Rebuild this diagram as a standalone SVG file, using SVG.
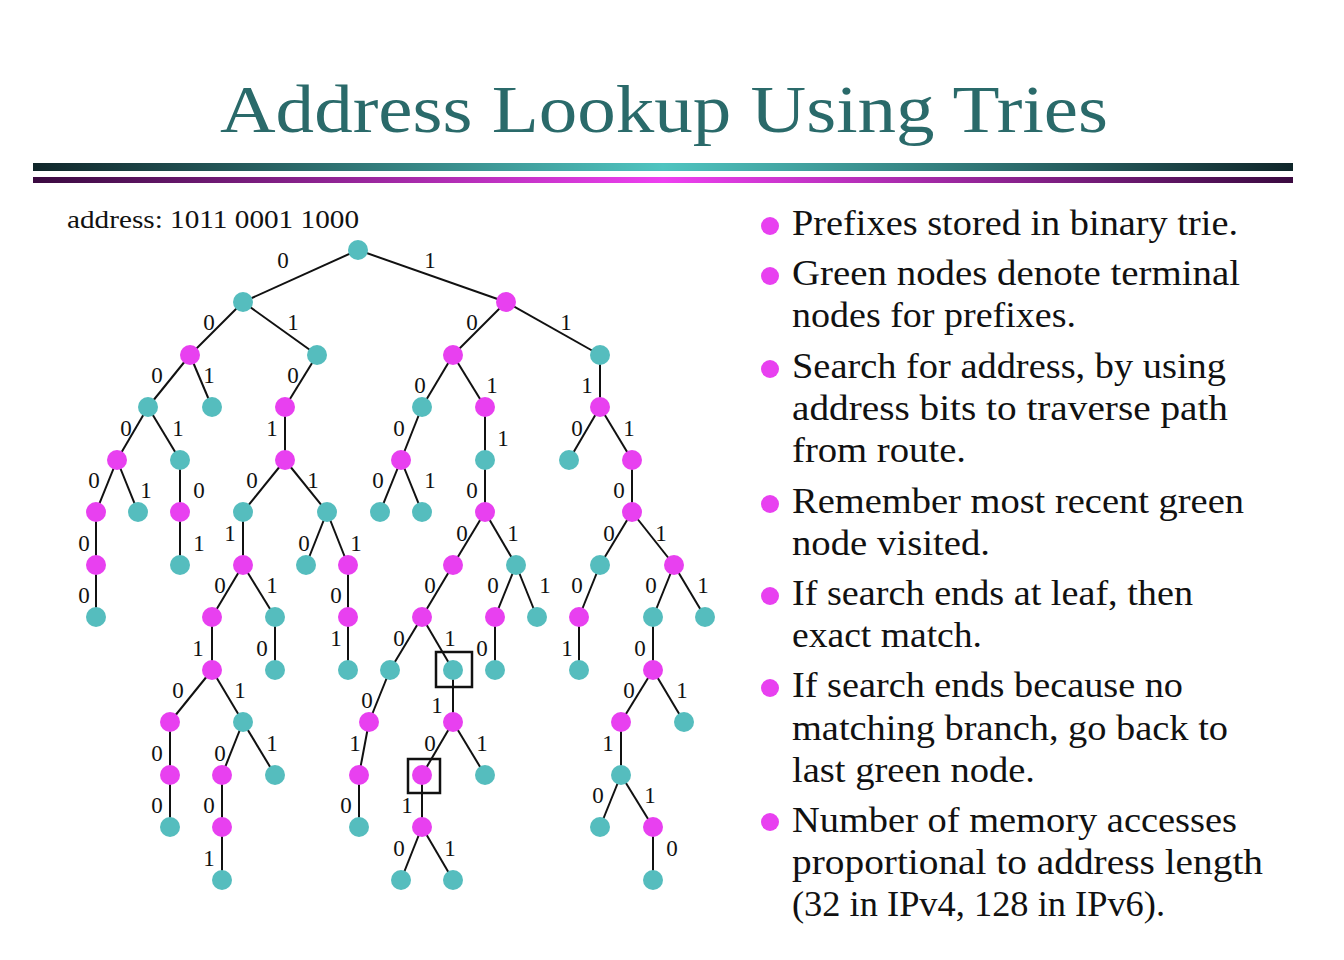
<svg xmlns="http://www.w3.org/2000/svg" width="1344" height="960" viewBox="0 0 1344 960">
<defs>
<linearGradient id="g1" x1="0" x2="1" y1="0" y2="0"><stop offset="0" stop-color="#10262a"/><stop offset="0.5" stop-color="#4fc4c0"/><stop offset="1" stop-color="#10262a"/></linearGradient>
<linearGradient id="g2" x1="0" x2="1" y1="0" y2="0"><stop offset="0" stop-color="#3a0a40"/><stop offset="0.5" stop-color="#ee40f0"/><stop offset="1" stop-color="#3a0a40"/></linearGradient>
</defs>
<style>
.t{fill:#55bdbe}.m{fill:#e840f0}
.e line{stroke:#111;stroke-width:2}
.l{font-family:"Liberation Serif",serif;font-size:23px;fill:#111;text-anchor:middle}
.b{font-family:"Liberation Serif",serif;font-size:35px;fill:#111}
.bx{fill:none;stroke:#111;stroke-width:2.5}
</style>
<rect width="1344" height="960" fill="#fff"/>
<text x="220" y="132" font-family="Liberation Serif,serif" font-size="68" fill="#2a6a6a" textLength="888" lengthAdjust="spacingAndGlyphs">Address Lookup Using Tries</text>
<rect x="33" y="163" width="1260" height="8" fill="url(#g1)"/>
<rect x="33" y="177" width="1260" height="6" fill="url(#g2)"/>
<text x="67" y="228" font-family="Liberation Serif,serif" font-size="26" fill="#111" textLength="292" lengthAdjust="spacingAndGlyphs">address: 1011 0001 1000</text>
<g id="connectors" class="e">
<line x1="358" y1="250" x2="243" y2="302"/><line x1="358" y1="250" x2="506" y2="302"/>
<line x1="243" y1="302" x2="190" y2="355"/><line x1="243" y1="302" x2="317" y2="355"/>
<line x1="190" y1="355" x2="148" y2="407"/><line x1="190" y1="355" x2="212" y2="407"/>
<line x1="148" y1="407" x2="117" y2="460"/><line x1="148" y1="407" x2="180" y2="460"/>
<line x1="117" y1="460" x2="96" y2="512"/><line x1="117" y1="460" x2="138" y2="512"/>
<line x1="96" y1="512" x2="96" y2="617"/>
<line x1="180" y1="460" x2="180" y2="565"/>
<line x1="317" y1="355" x2="285" y2="407"/><line x1="285" y1="407" x2="285" y2="460"/>
<line x1="285" y1="460" x2="243" y2="512"/><line x1="285" y1="460" x2="327" y2="512"/>
<line x1="243" y1="512" x2="243" y2="565"/>
<line x1="243" y1="565" x2="212" y2="617"/><line x1="243" y1="565" x2="275" y2="617"/>
<line x1="212" y1="617" x2="212" y2="670"/><line x1="275" y1="617" x2="275" y2="670"/>
<line x1="212" y1="670" x2="170" y2="722"/><line x1="212" y1="670" x2="243" y2="722"/>
<line x1="170" y1="722" x2="170" y2="827"/>
<line x1="243" y1="722" x2="222" y2="775"/><line x1="243" y1="722" x2="275" y2="775"/>
<line x1="222" y1="775" x2="222" y2="880"/>
<line x1="327" y1="512" x2="306" y2="565"/><line x1="327" y1="512" x2="348" y2="565"/>
<line x1="348" y1="565" x2="348" y2="670"/>
<line x1="506" y1="302" x2="453" y2="355"/><line x1="506" y1="302" x2="600" y2="355"/>
<line x1="453" y1="355" x2="422" y2="407"/><line x1="453" y1="355" x2="485" y2="407"/>
<line x1="422" y1="407" x2="401" y2="460"/>
<line x1="401" y1="460" x2="380" y2="512"/><line x1="401" y1="460" x2="422" y2="512"/>
<line x1="485" y1="407" x2="485" y2="512"/>
<line x1="485" y1="512" x2="453" y2="565"/><line x1="485" y1="512" x2="516" y2="565"/>
<line x1="453" y1="565" x2="422" y2="617"/>
<line x1="422" y1="617" x2="390" y2="670"/><line x1="422" y1="617" x2="453" y2="670"/>
<line x1="390" y1="670" x2="369" y2="722"/><line x1="369" y1="722" x2="359" y2="775"/><line x1="359" y1="775" x2="359" y2="827"/>
<line x1="453" y1="670" x2="453" y2="722"/>
<line x1="453" y1="722" x2="422" y2="775"/><line x1="453" y1="722" x2="485" y2="775"/>
<line x1="422" y1="775" x2="422" y2="827"/>
<line x1="422" y1="827" x2="401" y2="880"/><line x1="422" y1="827" x2="453" y2="880"/>
<line x1="516" y1="565" x2="495" y2="617"/><line x1="516" y1="565" x2="537" y2="617"/>
<line x1="495" y1="617" x2="495" y2="670"/>
<line x1="600" y1="355" x2="600" y2="407"/>
<line x1="600" y1="407" x2="569" y2="460"/><line x1="600" y1="407" x2="632" y2="460"/>
<line x1="632" y1="460" x2="632" y2="512"/>
<line x1="632" y1="512" x2="600" y2="565"/><line x1="632" y1="512" x2="674" y2="565"/>
<line x1="600" y1="565" x2="579" y2="617"/><line x1="579" y1="617" x2="579" y2="670"/>
<line x1="674" y1="565" x2="653" y2="617"/><line x1="674" y1="565" x2="705" y2="617"/>
<line x1="653" y1="617" x2="653" y2="670"/>
<line x1="653" y1="670" x2="621" y2="722"/><line x1="653" y1="670" x2="684" y2="722"/>
<line x1="621" y1="722" x2="621" y2="775"/>
<line x1="621" y1="775" x2="600" y2="827"/><line x1="621" y1="775" x2="653" y2="827"/>
<line x1="653" y1="827" x2="653" y2="880"/>
<g class="l">
<text x="283" y="268">0</text><text x="430" y="268">1</text>
<text x="209" y="330">0</text><text x="293" y="330">1</text>
<text x="157" y="383">0</text><text x="209" y="383">1</text>
<text x="126" y="436">0</text><text x="178" y="436">1</text>
<text x="94" y="488">0</text><text x="146" y="498">1</text>
<text x="84" y="551">0</text><text x="84" y="603">0</text>
<text x="199" y="498">0</text><text x="199" y="551">1</text>
<text x="293" y="383">0</text><text x="272" y="436">1</text>
<text x="252" y="488">0</text><text x="313" y="488">1</text>
<text x="230" y="541">1</text>
<text x="220" y="593">0</text><text x="272" y="593">1</text>
<text x="198" y="656">1</text><text x="262" y="656">0</text>
<text x="178" y="698">0</text><text x="240" y="698">1</text>
<text x="157" y="761">0</text><text x="157" y="813">0</text>
<text x="220" y="761">0</text><text x="272" y="751">1</text>
<text x="209" y="813">0</text><text x="209" y="866">1</text>
<text x="304" y="551">0</text><text x="356" y="551">1</text>
<text x="336" y="603">0</text><text x="336" y="646">1</text>
<text x="472" y="330">0</text><text x="566" y="330">1</text>
<text x="420" y="393">0</text><text x="492" y="393">1</text>
<text x="399" y="436">0</text>
<text x="378" y="488">0</text><text x="430" y="488">1</text>
<text x="503" y="446">1</text><text x="472" y="498">0</text>
<text x="462" y="541">0</text><text x="513" y="541">1</text>
<text x="430" y="593">0</text>
<text x="399" y="646">0</text><text x="450" y="646">1</text>
<text x="367" y="708">0</text><text x="355" y="751">1</text><text x="346" y="813">0</text>
<text x="437" y="713">1</text>
<text x="430" y="751">0</text><text x="482" y="751">1</text>
<text x="407" y="813">1</text>
<text x="399" y="856">0</text><text x="450" y="856">1</text>
<text x="493" y="593">0</text><text x="545" y="593">1</text>
<text x="482" y="656">0</text>
<text x="587" y="393">1</text>
<text x="577" y="436">0</text><text x="629" y="436">1</text>
<text x="619" y="498">0</text>
<text x="609" y="541">0</text><text x="661" y="541">1</text>
<text x="577" y="593">0</text><text x="567" y="656">1</text>
<text x="651" y="593">0</text><text x="703" y="593">1</text>
<text x="640" y="656">0</text>
<text x="629" y="698">0</text><text x="682" y="698">1</text>
<text x="608" y="751">1</text>
<text x="598" y="803">0</text><text x="650" y="803">1</text>
<text x="672" y="856">0</text>
</g>
</g>
<g id="nodes">
<g id="n_r"><circle class="t" cx="358" cy="250" r="10"/></g>
<g id="n_0"><circle class="t" cx="243" cy="302" r="10"/></g>
<g id="n_1"><circle class="m" cx="506" cy="302" r="10"/></g>
<g id="n_00"><circle class="m" cx="190" cy="355" r="10"/></g>
<g id="n_01"><circle class="t" cx="317" cy="355" r="10"/></g>
<g id="n_000"><circle class="t" cx="148" cy="407" r="10"/></g>
<g id="n_001"><circle class="t" cx="212" cy="407" r="10"/></g>
<g id="n_0000"><circle class="m" cx="117" cy="460" r="10"/></g>
<g id="n_0001"><circle class="t" cx="180" cy="460" r="10"/></g>
<g id="n_00000"><circle class="m" cx="96" cy="512" r="10"/></g>
<g id="n_00001"><circle class="t" cx="138" cy="512" r="10"/></g>
<g id="n_000000"><circle class="m" cx="96" cy="565" r="10"/></g>
<g id="n_0000000"><circle class="t" cx="96" cy="617" r="10"/></g>
<g id="n_00010"><circle class="m" cx="180" cy="512" r="10"/></g>
<g id="n_000101"><circle class="t" cx="180" cy="565" r="10"/></g>
<g id="n_010"><circle class="m" cx="285" cy="407" r="10"/></g>
<g id="n_0101"><circle class="m" cx="285" cy="460" r="10"/></g>
<g id="n_01010"><circle class="t" cx="243" cy="512" r="10"/></g>
<g id="n_01011"><circle class="t" cx="327" cy="512" r="10"/></g>
<g id="n_010101"><circle class="m" cx="243" cy="565" r="10"/></g>
<g id="n_0101010"><circle class="m" cx="212" cy="617" r="10"/></g>
<g id="n_0101011"><circle class="t" cx="275" cy="617" r="10"/></g>
<g id="n_01010101"><circle class="m" cx="212" cy="670" r="10"/></g>
<g id="n_01010110"><circle class="t" cx="275" cy="670" r="10"/></g>
<g id="n_a1"><circle class="m" cx="170" cy="722" r="10"/></g>
<g id="n_a2"><circle class="t" cx="243" cy="722" r="10"/></g>
<g id="n_a3"><circle class="m" cx="170" cy="775" r="10"/></g>
<g id="n_a4"><circle class="t" cx="170" cy="827" r="10"/></g>
<g id="n_a5"><circle class="m" cx="222" cy="775" r="10"/></g>
<g id="n_a6"><circle class="t" cx="275" cy="775" r="10"/></g>
<g id="n_a7"><circle class="m" cx="222" cy="827" r="10"/></g>
<g id="n_a8"><circle class="t" cx="222" cy="880" r="10"/></g>
<g id="n_a9"><circle class="t" cx="306" cy="565" r="10"/></g>
<g id="n_a10"><circle class="m" cx="348" cy="565" r="10"/></g>
<g id="n_a11"><circle class="m" cx="348" cy="617" r="10"/></g>
<g id="n_a12"><circle class="t" cx="348" cy="670" r="10"/></g>
<g id="n_b1"><circle class="m" cx="453" cy="355" r="10"/></g>
<g id="n_b2"><circle class="t" cx="600" cy="355" r="10"/></g>
<g id="n_b3"><circle class="t" cx="422" cy="407" r="10"/></g>
<g id="n_b4"><circle class="m" cx="485" cy="407" r="10"/></g>
<g id="n_b5"><circle class="m" cx="401" cy="460" r="10"/></g>
<g id="n_b6"><circle class="t" cx="380" cy="512" r="10"/></g>
<g id="n_b7"><circle class="t" cx="422" cy="512" r="10"/></g>
<g id="n_b8"><circle class="t" cx="485" cy="460" r="10"/></g>
<g id="n_b9"><circle class="m" cx="485" cy="512" r="10"/></g>
<g id="n_b10"><circle class="m" cx="453" cy="565" r="10"/></g>
<g id="n_b11"><circle class="t" cx="516" cy="565" r="10"/></g>
<g id="n_b12"><circle class="m" cx="422" cy="617" r="10"/></g>
<g id="n_b13"><circle class="t" cx="390" cy="670" r="10"/></g>
<g id="n_b14"><circle class="t" cx="453" cy="670" r="10"/><rect class="bx" x="436" y="652" width="36" height="35"/></g>
<g id="n_b15"><circle class="m" cx="369" cy="722" r="10"/></g>
<g id="n_b16"><circle class="m" cx="359" cy="775" r="10"/></g>
<g id="n_b17"><circle class="t" cx="359" cy="827" r="10"/></g>
<g id="n_b18"><circle class="m" cx="453" cy="722" r="10"/></g>
<g id="n_b19"><circle class="m" cx="422" cy="775" r="10"/><rect class="bx" x="408" y="759" width="32" height="34"/></g>
<g id="n_b20"><circle class="t" cx="485" cy="775" r="10"/></g>
<g id="n_b21"><circle class="m" cx="422" cy="827" r="10"/></g>
<g id="n_b22"><circle class="t" cx="401" cy="880" r="10"/></g>
<g id="n_b23"><circle class="t" cx="453" cy="880" r="10"/></g>
<g id="n_b24"><circle class="m" cx="495" cy="617" r="10"/></g>
<g id="n_b25"><circle class="t" cx="537" cy="617" r="10"/></g>
<g id="n_b26"><circle class="t" cx="495" cy="670" r="10"/></g>
<g id="n_c1"><circle class="m" cx="600" cy="407" r="10"/></g>
<g id="n_c2"><circle class="t" cx="569" cy="460" r="10"/></g>
<g id="n_c3"><circle class="m" cx="632" cy="460" r="10"/></g>
<g id="n_c4"><circle class="m" cx="632" cy="512" r="10"/></g>
<g id="n_c5"><circle class="t" cx="600" cy="565" r="10"/></g>
<g id="n_c6"><circle class="m" cx="674" cy="565" r="10"/></g>
<g id="n_c7"><circle class="m" cx="579" cy="617" r="10"/></g>
<g id="n_c8"><circle class="t" cx="579" cy="670" r="10"/></g>
<g id="n_c9"><circle class="t" cx="653" cy="617" r="10"/></g>
<g id="n_c10"><circle class="t" cx="705" cy="617" r="10"/></g>
<g id="n_c11"><circle class="m" cx="653" cy="670" r="10"/></g>
<g id="n_c12"><circle class="m" cx="621" cy="722" r="10"/></g>
<g id="n_c13"><circle class="t" cx="684" cy="722" r="10"/></g>
<g id="n_c14"><circle class="t" cx="621" cy="775" r="10"/></g>
<g id="n_c15"><circle class="t" cx="600" cy="827" r="10"/></g>
<g id="n_c16"><circle class="m" cx="653" cy="827" r="10"/></g>
<g id="n_c17"><circle class="t" cx="653" cy="880" r="10"/></g>
</g>
<g id="bullets">
<g class="m"><circle cx="770" cy="226" r="9"/><circle cx="770" cy="276" r="9"/><circle cx="770" cy="369" r="9"/><circle cx="770" cy="504" r="9"/><circle cx="770" cy="596" r="9"/><circle cx="770" cy="688" r="9"/><circle cx="770" cy="822" r="9"/></g>
<text class="b" x="792" y="235" textLength="446" lengthAdjust="spacingAndGlyphs">Prefixes stored in binary trie.</text>
<text class="b" x="792" y="285" textLength="448" lengthAdjust="spacingAndGlyphs">Green nodes denote terminal</text>
<text class="b" x="792" y="327" textLength="284" lengthAdjust="spacingAndGlyphs">nodes for prefixes.</text>
<text class="b" x="792" y="378" textLength="434" lengthAdjust="spacingAndGlyphs">Search for address, by using</text>
<text class="b" x="792" y="420" textLength="436" lengthAdjust="spacingAndGlyphs">address bits to traverse path</text>
<text class="b" x="792" y="462" textLength="174" lengthAdjust="spacingAndGlyphs">from route.</text>
<text class="b" x="792" y="513" textLength="452" lengthAdjust="spacingAndGlyphs">Remember most recent green</text>
<text class="b" x="792" y="555" textLength="198" lengthAdjust="spacingAndGlyphs">node visited.</text>
<text class="b" x="792" y="605" textLength="401" lengthAdjust="spacingAndGlyphs">If search ends at leaf, then</text>
<text class="b" x="792" y="647" textLength="190" lengthAdjust="spacingAndGlyphs">exact match.</text>
<text class="b" x="792" y="697" textLength="391" lengthAdjust="spacingAndGlyphs">If search ends because no</text>
<text class="b" x="792" y="740" textLength="436" lengthAdjust="spacingAndGlyphs">matching branch, go back to</text>
<text class="b" x="792" y="782" textLength="243" lengthAdjust="spacingAndGlyphs">last green node.</text>
<text class="b" x="792" y="832" textLength="445" lengthAdjust="spacingAndGlyphs">Number of memory accesses</text>
<text class="b" x="792" y="874" textLength="471" lengthAdjust="spacingAndGlyphs">proportional to address length</text>
<text class="b" x="792" y="916" textLength="373" lengthAdjust="spacingAndGlyphs">(32 in IPv4, 128 in IPv6).</text>
</g>
</svg>
